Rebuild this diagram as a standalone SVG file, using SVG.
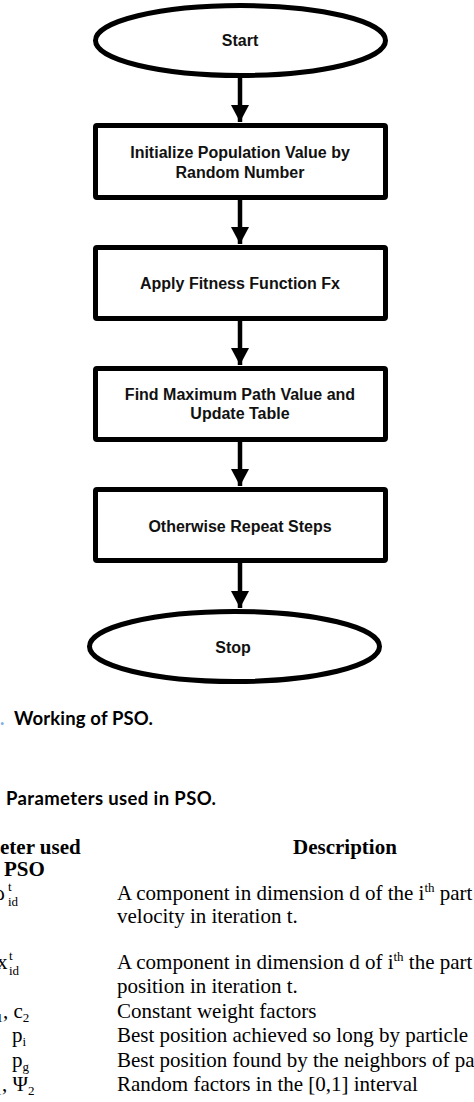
<svg xmlns="http://www.w3.org/2000/svg" width="474" height="1102" viewBox="0 0 474 1102">
<style>
.node{fill:#fff;stroke:#000;stroke-width:5}
.ft{font-family:"Liberation Sans",Arial,sans-serif;font-weight:bold;font-size:16px;fill:#111;text-anchor:middle}
.shaft{stroke:#000;stroke-width:4.5;fill:none}
.cap{font-family:Lato,"Open Sans",sans-serif;font-weight:bold;font-size:18.5px;fill:#000}
.th{font-family:"Liberation Serif","Times New Roman",serif;font-weight:bold;font-size:21px;fill:#000}
.tx{font-family:"Liberation Serif","Times New Roman",serif;font-size:21px;fill:#000}
.sm{font-size:13px}
</style>
<defs>
<marker id="ah" markerUnits="userSpaceOnUse" markerWidth="18" markerHeight="24" refX="17" refY="9" orient="auto">
<path d="M0,0 L17,9 L0,18 Z" fill="#000"/>
</marker>
</defs>
<rect width="474" height="1102" fill="#fff"/>
<g id="connectors">
<line class="shaft" x1="240" y1="78" x2="240" y2="122" marker-end="url(#ah)"/>
<line class="shaft" x1="240" y1="200" x2="240" y2="244" marker-end="url(#ah)"/>
<line class="shaft" x1="240" y1="321" x2="240" y2="365" marker-end="url(#ah)"/>
<line class="shaft" x1="240" y1="442" x2="240" y2="486" marker-end="url(#ah)"/>
<line class="shaft" x1="240" y1="563" x2="240" y2="608" marker-end="url(#ah)"/>
</g>
<g id="start">
<ellipse class="node" cx="240.5" cy="40.5" rx="145" ry="35"/>
<text class="ft" x="240" y="46">Start</text>
</g>
<g id="init">
<rect class="node" x="95.5" y="125.5" width="290" height="72" rx="1.5"/>
<text class="ft" x="240" y="158">Initialize Population Value by</text>
<text class="ft" x="240" y="178">Random Number</text>
</g>
<g id="fitness">
<rect class="node" x="95.5" y="247.5" width="290" height="71" rx="1.5"/>
<text class="ft" x="240" y="289">Apply Fitness Function Fx</text>
</g>
<g id="update">
<rect class="node" x="95.5" y="368.5" width="290" height="71" rx="1.5"/>
<text class="ft" x="240" y="400">Find Maximum Path Value and</text>
<text class="ft" x="240" y="419">Update Table</text>
</g>
<g id="repeat">
<rect class="node" x="95.5" y="489.5" width="290" height="71" rx="1.5"/>
<text class="ft" x="240" y="532">Otherwise Repeat Steps</text>
</g>
<g id="stop">
<ellipse class="node" cx="234.5" cy="646.5" rx="145" ry="35"/>
<text class="ft" x="233" y="653">Stop</text>
</g>
<g id="captions">
<text class="cap" x="0" y="725" style="fill:#7fb0e0">.</text>
<text class="cap" x="14" y="725" textLength="139">Working of PSO.</text>
<text class="cap" x="6" y="805" textLength="210">Parameters used in PSO.</text>
</g>
<g id="table">
<text class="th" x="0" y="854">eter used</text>
<text class="th" x="4" y="876">PSO</text>
<text class="th" x="293" y="854">Description</text>

<text class="tx" x="-9" y="900">ω</text>
<text class="tx sm" x="8" y="891">t</text>
<text class="tx sm" x="8" y="906">id</text>
<text class="tx" x="117" y="900">A component in dimension d of the i<tspan class="sm" dy="-8">th</tspan><tspan dy="8"> part</tspan></text>
<text class="tx" x="117" y="923">velocity in iteration t.</text>

<text class="tx" x="-3" y="969">x</text>
<text class="tx sm" x="9" y="960">t</text>
<text class="tx sm" x="9" y="975">id</text>
<text class="tx" x="117" y="969">A component in dimension d of i<tspan class="sm" dy="-8">th</tspan><tspan dy="8"> the part</tspan></text>
<text class="tx" x="117" y="993">position in iteration t.</text>

<text class="tx" x="-12.8" y="1018">c<tspan class="sm" dy="4">1</tspan><tspan dy="-4">, c</tspan><tspan class="sm" dy="4">2</tspan></text>
<text class="tx" x="117" y="1018">Constant weight factors</text>

<text class="tx" x="12" y="1042">p<tspan class="sm" dy="4">i</tspan></text>
<text class="tx" x="117" y="1042">Best position achieved so long by particle</text>

<text class="tx" x="12" y="1067">p<tspan class="sm" dy="4">g</tspan></text>
<text class="tx" x="117" y="1067">Best position found by the neighbors of pa</text>

<text class="tx" x="-20" y="1091">Ψ<tspan class="sm" dy="4">1</tspan><tspan dy="-4">, Ψ</tspan><tspan class="sm" dy="4">2</tspan></text>
<text class="tx" x="117" y="1091">Random factors in the [0,1] interval</text>
</g>
</svg>
